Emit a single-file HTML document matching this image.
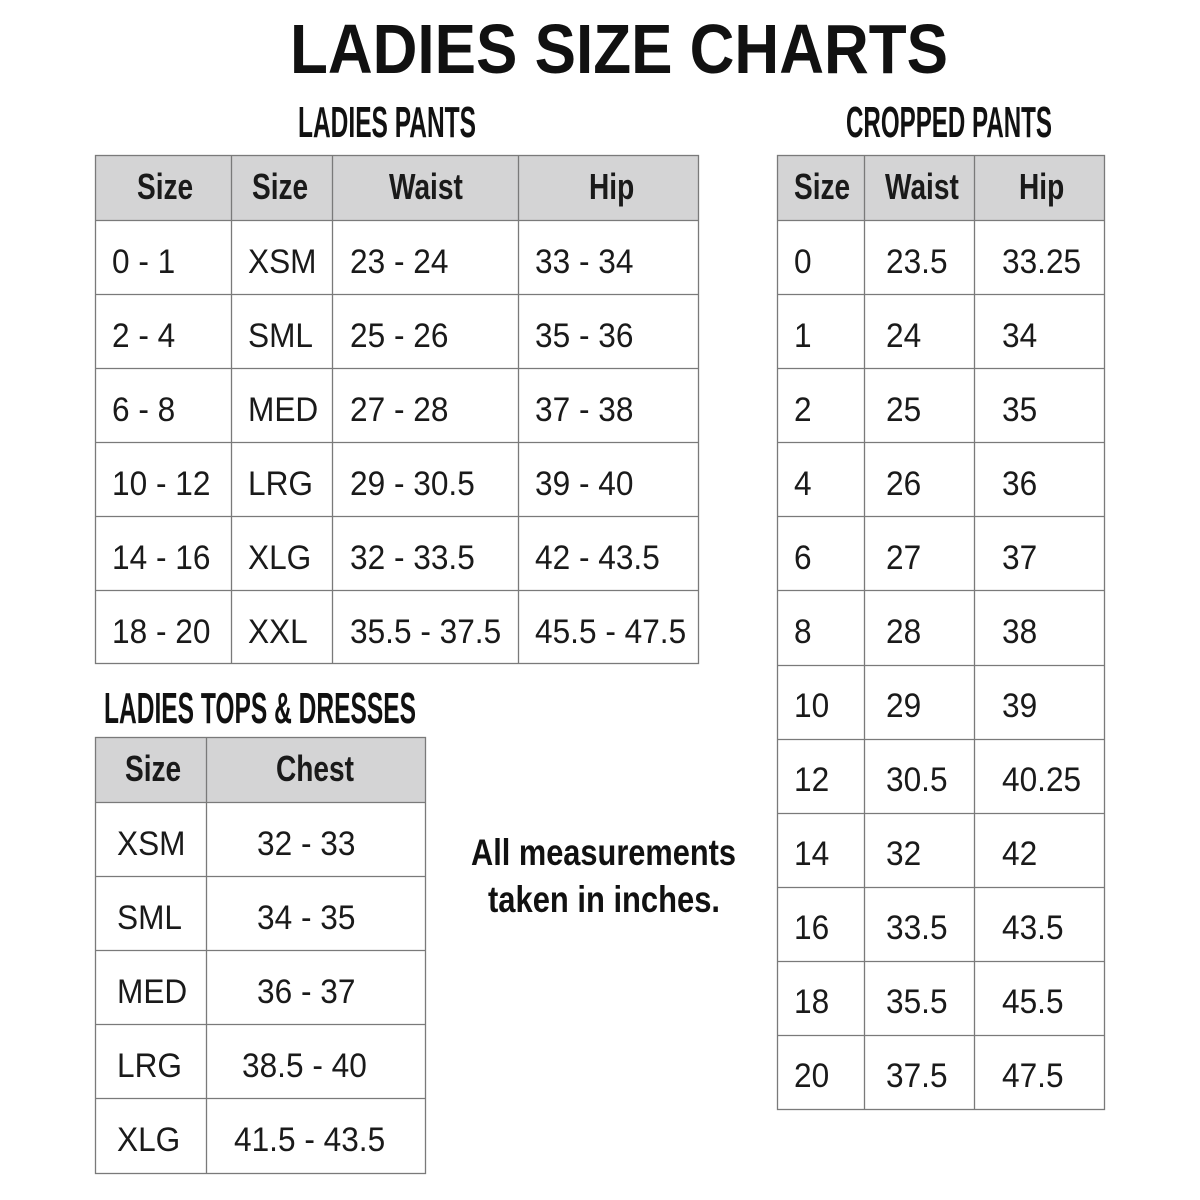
<!DOCTYPE html>
<html><head><meta charset="utf-8"><style>
html,body{margin:0;padding:0;background:#fff;width:1200px;height:1200px;overflow:hidden}
svg{display:block}
.t{font-family:"Liberation Sans",sans-serif;font-size:34px;fill:#1a1a1a}
.h{font-family:"Liberation Sans",sans-serif;font-size:36px;font-weight:bold;fill:#1a1a1a}
.ti{font-family:"Liberation Sans",sans-serif;font-weight:bold;fill:#111}
</style></head><body>
<svg width="1200" height="1200" viewBox="0 0 1200 1200" xmlns="http://www.w3.org/2000/svg">
<text class="ti" x="290" y="73" font-size="70" textLength="658" lengthAdjust="spacingAndGlyphs">LADIES SIZE CHARTS</text>
<text class="ti" x="298" y="137" font-size="44" textLength="178" lengthAdjust="spacingAndGlyphs">LADIES PANTS</text>
<text class="ti" x="846" y="137" font-size="44" textLength="206" lengthAdjust="spacingAndGlyphs">CROPPED PANTS</text>
<text class="ti" x="104" y="723" font-size="44" textLength="312" lengthAdjust="spacingAndGlyphs">LADIES TOPS &amp; DRESSES</text>
<text class="ti" x="471" y="865" font-size="37" textLength="265" lengthAdjust="spacingAndGlyphs">All measurements</text>
<text class="ti" x="488" y="912" font-size="37" textLength="232" lengthAdjust="spacingAndGlyphs">taken in inches.</text>

<rect x="95" y="155" width="603" height="65" fill="#d4d4d5"/>
<rect x="777" y="155" width="327" height="65" fill="#d4d4d5"/>
<rect x="95" y="737" width="330" height="65" fill="#d4d4d5"/>

<g stroke="#7a7a7a" stroke-width="1.3" fill="none">
<rect x="95.5" y="155.5" width="603" height="508"/>
<line x1="231.5" y1="155" x2="231.5" y2="663"/><line x1="332.5" y1="155" x2="332.5" y2="663"/><line x1="518.5" y1="155" x2="518.5" y2="663"/>
<line x1="95" y1="220.5" x2="698" y2="220.5"/><line x1="95" y1="294.5" x2="698" y2="294.5"/><line x1="95" y1="368.5" x2="698" y2="368.5"/><line x1="95" y1="442.5" x2="698" y2="442.5"/><line x1="95" y1="516.5" x2="698" y2="516.5"/><line x1="95" y1="590.5" x2="698" y2="590.5"/>
<rect x="777.5" y="155.5" width="327" height="954"/>
<line x1="864.5" y1="155" x2="864.5" y2="1109"/><line x1="974.5" y1="155" x2="974.5" y2="1109"/>
<line x1="777" y1="220.5" x2="1104" y2="220.5"/><line x1="777" y1="294.5" x2="1104" y2="294.5"/><line x1="777" y1="368.5" x2="1104" y2="368.5"/><line x1="777" y1="442.5" x2="1104" y2="442.5"/><line x1="777" y1="516.5" x2="1104" y2="516.5"/><line x1="777" y1="590.5" x2="1104" y2="590.5"/><line x1="777" y1="665.5" x2="1104" y2="665.5"/><line x1="777" y1="739.5" x2="1104" y2="739.5"/><line x1="777" y1="813.5" x2="1104" y2="813.5"/><line x1="777" y1="887.5" x2="1104" y2="887.5"/><line x1="777" y1="961.5" x2="1104" y2="961.5"/><line x1="777" y1="1035.5" x2="1104" y2="1035.5"/>
<rect x="95.5" y="737.5" width="330" height="436"/>
<line x1="206.5" y1="737" x2="206.5" y2="1173"/>
<line x1="95" y1="802.5" x2="425" y2="802.5"/><line x1="95" y1="876.5" x2="425" y2="876.5"/><line x1="95" y1="950.5" x2="425" y2="950.5"/><line x1="95" y1="1024.5" x2="425" y2="1024.5"/><line x1="95" y1="1098.5" x2="425" y2="1098.5"/>
</g>

<g class="h">
<text transform="matrix(.78 0 0 1 137 199)">Size</text>
<text transform="matrix(.78 0 0 1 252 199)">Size</text>
<text transform="matrix(.78 0 0 1 389 199)">Waist</text>
<text transform="matrix(.78 0 0 1 589 199)">Hip</text>
<text transform="matrix(.78 0 0 1 794 199)">Size</text>
<text transform="matrix(.78 0 0 1 885 199)">Waist</text>
<text transform="matrix(.78 0 0 1 1019 199)">Hip</text>
<text transform="matrix(.78 0 0 1 125 781)">Size</text>
<text transform="matrix(.78 0 0 1 276 781)">Chest</text>
</g>

<g class="t">
<text transform="matrix(.93 0 0 1 112 273)">0 - 1</text><text transform="matrix(.93 0 0 1 248 273)">XSM</text><text transform="matrix(.93 0 0 1 350 273)">23 - 24</text><text transform="matrix(.93 0 0 1 535 273)">33 - 34</text>
<text transform="matrix(.93 0 0 1 112 347)">2 - 4</text><text transform="matrix(.93 0 0 1 248 347)">SML</text><text transform="matrix(.93 0 0 1 350 347)">25 - 26</text><text transform="matrix(.93 0 0 1 535 347)">35 - 36</text>
<text transform="matrix(.93 0 0 1 112 421)">6 - 8</text><text transform="matrix(.93 0 0 1 248 421)">MED</text><text transform="matrix(.93 0 0 1 350 421)">27 - 28</text><text transform="matrix(.93 0 0 1 535 421)">37 - 38</text>
<text transform="matrix(.93 0 0 1 112 495)">10 - 12</text><text transform="matrix(.93 0 0 1 248 495)">LRG</text><text transform="matrix(.93 0 0 1 350 495)">29 - 30.5</text><text transform="matrix(.93 0 0 1 535 495)">39 - 40</text>
<text transform="matrix(.93 0 0 1 112 569)">14 - 16</text><text transform="matrix(.93 0 0 1 248 569)">XLG</text><text transform="matrix(.93 0 0 1 350 569)">32 - 33.5</text><text transform="matrix(.93 0 0 1 535 569)">42 - 43.5</text>
<text transform="matrix(.93 0 0 1 112 643)">18 - 20</text><text transform="matrix(.93 0 0 1 248 643)">XXL</text><text transform="matrix(.93 0 0 1 350 643)">35.5 - 37.5</text><text transform="matrix(.93 0 0 1 535 643)">45.5 - 47.5</text>
<text transform="matrix(.93 0 0 1 794 273)">0</text><text transform="matrix(.93 0 0 1 886 273)">23.5</text><text transform="matrix(.93 0 0 1 1002 273)">33.25</text>
<text transform="matrix(.93 0 0 1 794 347)">1</text><text transform="matrix(.93 0 0 1 886 347)">24</text><text transform="matrix(.93 0 0 1 1002 347)">34</text>
<text transform="matrix(.93 0 0 1 794 421)">2</text><text transform="matrix(.93 0 0 1 886 421)">25</text><text transform="matrix(.93 0 0 1 1002 421)">35</text>
<text transform="matrix(.93 0 0 1 794 495)">4</text><text transform="matrix(.93 0 0 1 886 495)">26</text><text transform="matrix(.93 0 0 1 1002 495)">36</text>
<text transform="matrix(.93 0 0 1 794 569)">6</text><text transform="matrix(.93 0 0 1 886 569)">27</text><text transform="matrix(.93 0 0 1 1002 569)">37</text>
<text transform="matrix(.93 0 0 1 794 643)">8</text><text transform="matrix(.93 0 0 1 886 643)">28</text><text transform="matrix(.93 0 0 1 1002 643)">38</text>
<text transform="matrix(.93 0 0 1 794 717)">10</text><text transform="matrix(.93 0 0 1 886 717)">29</text><text transform="matrix(.93 0 0 1 1002 717)">39</text>
<text transform="matrix(.93 0 0 1 794 791)">12</text><text transform="matrix(.93 0 0 1 886 791)">30.5</text><text transform="matrix(.93 0 0 1 1002 791)">40.25</text>
<text transform="matrix(.93 0 0 1 794 865)">14</text><text transform="matrix(.93 0 0 1 886 865)">32</text><text transform="matrix(.93 0 0 1 1002 865)">42</text>
<text transform="matrix(.93 0 0 1 794 939)">16</text><text transform="matrix(.93 0 0 1 886 939)">33.5</text><text transform="matrix(.93 0 0 1 1002 939)">43.5</text>
<text transform="matrix(.93 0 0 1 794 1013)">18</text><text transform="matrix(.93 0 0 1 886 1013)">35.5</text><text transform="matrix(.93 0 0 1 1002 1013)">45.5</text>
<text transform="matrix(.93 0 0 1 794 1087)">20</text><text transform="matrix(.93 0 0 1 886 1087)">37.5</text><text transform="matrix(.93 0 0 1 1002 1087)">47.5</text>
<text transform="matrix(.93 0 0 1 117 855)">XSM</text><text transform="matrix(.93 0 0 1 257 855)">32 - 33</text>
<text transform="matrix(.93 0 0 1 117 929)">SML</text><text transform="matrix(.93 0 0 1 257 929)">34 - 35</text>
<text transform="matrix(.93 0 0 1 117 1003)">MED</text><text transform="matrix(.93 0 0 1 257 1003)">36 - 37</text>
<text transform="matrix(.93 0 0 1 117 1077)">LRG</text><text transform="matrix(.93 0 0 1 242 1077)">38.5 - 40</text>
<text transform="matrix(.93 0 0 1 117 1151)">XLG</text><text transform="matrix(.93 0 0 1 234 1151)">41.5 - 43.5</text>
</g>
</svg>
</body></html>
